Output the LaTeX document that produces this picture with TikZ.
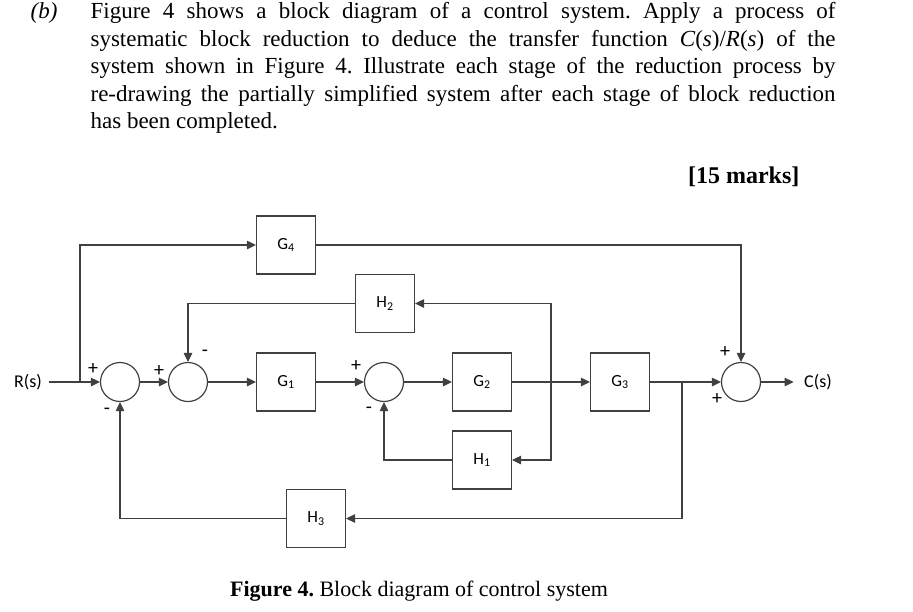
\documentclass[tikz,border=0pt]{standalone}
\usepackage{fontspec}
\usepackage{tikz}
\usetikzlibrary{arrows.meta}
\setmainfont{Liberation Serif}
\newfontfamily\diagfont{Carlito}
\definecolor{wire}{RGB}{64,64,64}
\frenchspacing

\begin{document}
\begin{tikzpicture}[x=1pt,y=-1pt,
    line width=1.2pt, draw=wire,
    >={Triangle[length=9pt,width=8.5pt]},
    block/.style={draw=wire,minimum width=59pt,minimum height=58pt,inner sep=0pt,
      font=\diagfont\fontsize{17}{17}\selectfont},
    summer/.style={circle,draw=wire,minimum size=39pt,inner sep=0pt},
    sign/.style={font=\diagfont\fontsize{20}{20}\selectfont,inner sep=0pt},
    sigtext/.style={font=\diagfont\fontsize{18}{18}\selectfont,inner sep=0pt},
    qtext/.style={anchor=base west,inner sep=0pt,font=\fontsize{23}{27}\selectfont}]
    \useasboundingbox (0,0) rectangle (913,611);
    % question text
    \node[qtext] (qb) at (30,18.5) {\itshape (b)};
    \node[qtext] (q1) at (90,18.5) {\makebox[745pt][s]{Figure 4 shows a block diagram of a control system. Apply a process of}};
    \node[qtext] (q2) at (90,46.1) {\makebox[745pt][s]{systematic block reduction to deduce the transfer function \textit{C}(\textit{s})/\textit{R}(\textit{s}) of the}};
    \node[qtext] (q3) at (90,73.7) {\makebox[745pt][s]{system shown in Figure 4. Illustrate each stage of the reduction process by}};
    \node[qtext] (q4) at (90,101.3) {\makebox[745pt][s]{re-drawing the partially simplified system after each stage of block reduction}};
    \node[qtext] (q5) at (90,128.9) {has been completed.};
    \node[qtext,anchor=base east,font=\fontsize{24}{27}\selectfont] (marks) at (800,183) {\bfseries [15 marks]};
    % blocks and summing points
    \node[sigtext] (rin) at (28,382) {R(s)};
    \node[summer] (s1) at (120,382) {};
    \node[summer] (s2) at (188,382) {};
    \node[block] (g1) at (286,382) {G\textsubscript{1}};
    \node[summer] (s3) at (384,382) {};
    \node[block] (g2) at (482,382) {G\textsubscript{2}};
    \node[block] (g3) at (620,382) {G\textsubscript{3}};
    \node[summer] (s4) at (741,382) {};
    \node[sigtext] (cout) at (818,382) {C(s)};
    \node[block] (g4) at (286,245) {G\textsubscript{4}};
    \node[block] (h2) at (385,303.5) {H\textsubscript{2}};
    \node[block] (h1) at (482,460) {H\textsubscript{1}};
    \node[block] (h3) at (316,518.5) {H\textsubscript{3}};
    \coordinate (p0) at (80,382);
    \coordinate (p1) at (551,382);
    \coordinate (p2) at (682,382);
    % forward path
    \draw[->,shorten <=7pt] (rin) -- (s1);
    \draw[->] (s1) -- (s2);
    \draw[->] (s2) -- (g1);
    \draw[->] (g1) -- (s3);
    \draw[->] (s3) -- (g2);
    \draw[->] (g2) -- (g3);
    \draw[->] (g3) -- (s4);
    \draw[->,shorten >=10pt] (s4) -- (cout);
    \draw[->] (p0) |- (g4);
    \draw[->] (g4) -| (s4);
    % feedback paths
    \draw[->] (p1) |- (h2);
    \draw[->] (h2) -| (s2);
    \draw[->] (p1) |- (h1);
    \draw[->] (h1) -| (s3);
    \draw[->] (p2) |- (h3);
    \draw[->] (h3) -| (s1);
    % signs
    \node[sign] (a1) at (93,369) {+};
    \node[sign] (b1) at (107,411) {-};
    \node[sign] (a2) at (159,371) {+};
    \node[sign] (b2) at (205,353) {-};
    \node[sign] (a3) at (356,366) {+};
    \node[sign] (b3) at (369,410) {-};
    \node[sign] (a4) at (725,352) {+};
    \node[sign] (b4) at (717,399) {+};
    % caption
    \node[anchor=base,inner sep=0pt,font=\fontsize{22}{22}\selectfont] (cap) at (419,596.7)
      {\textbf{Figure 4.} Block diagram of control system};
\end{tikzpicture}
\end{document}
